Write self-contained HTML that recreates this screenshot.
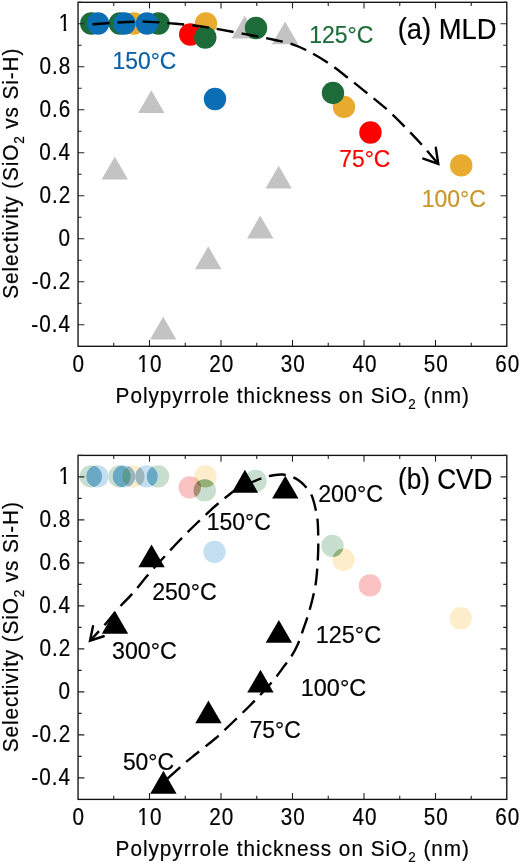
<!DOCTYPE html>
<html lang="en"><head><meta charset="utf-8"><title>Selectivity vs polypyrrole thickness</title>
<style>
html,body{margin:0;padding:0;background:#fff}
svg{display:block;font-family:"Liberation Sans", Arial, Helvetica, sans-serif}
text{stroke-width:0.2px;paint-order:stroke fill;white-space:pre}
</style></head>
<body>
<svg width="520" height="864" viewBox="0 0 520 864">
<defs><clipPath id="cp-one"><path d="M-10,-40H120V-2.72H-10Z M5.38,-3.22H8.22V3H5.38Z M12.79,-3.22H120V10H12.79Z"/></clipPath></defs>
<rect width="520" height="864" fill="#fff"/>
<g id="panel-a">
<polygon points="163.20,316.64 150.00,339.44 176.40,339.44" fill="#c3c3c3"/>
<polygon points="208.25,246.34 195.05,269.14 221.44,269.14" fill="#c3c3c3"/>
<polygon points="260.23,215.59 247.03,238.39 273.43,238.39" fill="#c3c3c3"/>
<polygon points="278.67,165.71 265.47,188.51 291.87,188.51" fill="#c3c3c3"/>
<polygon points="244.71,15.64 231.51,38.44 257.91,38.44" fill="#c3c3c3"/>
<polygon points="285.11,21.44 271.91,44.24 298.31,44.24" fill="#c3c3c3"/>
<polygon points="151.33,90.24 138.13,113.04 164.53,113.04" fill="#c3c3c3"/>
<polygon points="114.79,156.68 101.59,179.48 127.99,179.48" fill="#c3c3c3"/>
<circle cx="133.77" cy="23.50" r="11.2" fill="#e9ab2f"/>
<circle cx="205.99" cy="23.50" r="11.2" fill="#e9ab2f"/>
<circle cx="343.98" cy="106.92" r="11.2" fill="#e9ab2f"/>
<circle cx="461.24" cy="165.40" r="11.2" fill="#e9ab2f"/>
<circle cx="190.25" cy="34.47" r="11.2" fill="#ff0000"/>
<circle cx="370.44" cy="132.50" r="11.2" fill="#ff0000"/>
<circle cx="91.30" cy="23.50" r="11.2" fill="#1c6b38"/>
<circle cx="119.90" cy="23.50" r="11.2" fill="#1c6b38"/>
<circle cx="158.51" cy="23.50" r="11.2" fill="#1c6b38"/>
<circle cx="205.27" cy="37.47" r="11.2" fill="#1c6b38"/>
<circle cx="256.03" cy="28.02" r="11.2" fill="#1c6b38"/>
<circle cx="332.97" cy="92.94" r="11.2" fill="#1c6b38"/>
<circle cx="98.02" cy="23.50" r="11.2" fill="#0a6eb4"/>
<circle cx="124.47" cy="23.50" r="11.2" fill="#0a6eb4"/>
<circle cx="147.00" cy="23.50" r="11.2" fill="#0a6eb4"/>
<circle cx="214.99" cy="98.97" r="11.2" fill="#0a6eb4"/>
<path d="M92.50,24.30 C95.42,24.08 104.25,23.38 110.00,23.00 C115.75,22.62 121.50,22.23 127.00,22.00 C132.50,21.77 137.50,21.53 143.00,21.60 C148.50,21.67 154.50,22.03 160.00,22.40 C165.50,22.77 170.67,23.33 176.00,23.80 C181.33,24.27 186.33,24.53 192.00,25.20 C197.67,25.87 203.50,26.75 210.00,27.80 C216.50,28.85 223.50,30.13 231.00,31.50 C238.50,32.87 247.67,34.58 255.00,36.00 C262.33,37.42 269.17,38.75 275.00,40.00 C280.83,41.25 284.83,41.83 290.00,43.50 C295.17,45.17 299.75,46.83 306.00,50.00 C312.25,53.17 320.58,57.92 327.50,62.50 C334.42,67.08 340.83,72.33 347.50,77.50 C354.17,82.67 360.92,88.17 367.50,93.50 C374.08,98.83 380.75,103.92 387.00,109.50 C393.25,115.08 399.08,121.00 405.00,127.00 C410.92,133.00 417.08,139.50 422.50,145.50 C427.92,151.50 435.00,160.08 437.50,163.00" fill="none" stroke="#000" stroke-width="2.4" stroke-dasharray="17 8"/>
<path d="M423.3,158.6 L438.3,164 L435.8,147.8" fill="none" stroke="#000" stroke-width="2.4" stroke-linecap="round" stroke-linejoin="miter"/>
<rect x="78.05" y="2.30" width="428.75" height="344.00" fill="none" stroke="#111" stroke-width="1.35"/>
<path d="M113.75,346.30v-3.6 M113.75,2.30v3.6 M149.50,346.30v-6.3 M149.50,2.30v6.3 M185.25,346.30v-3.6 M185.25,2.30v3.6 M221.00,346.30v-6.3 M221.00,2.30v6.3 M256.75,346.30v-3.6 M256.75,2.30v3.6 M292.50,346.30v-6.3 M292.50,2.30v6.3 M328.25,346.30v-3.6 M328.25,2.30v3.6 M364.00,346.30v-6.3 M364.00,2.30v6.3 M399.75,346.30v-3.6 M399.75,2.30v3.6 M435.50,346.30v-6.3 M435.50,2.30v6.3 M471.25,346.30v-3.6 M471.25,2.30v3.6 M78.05,324.80h6.3 M506.8,324.80h-6.3 M78.05,303.30h3.6 M506.8,303.30h-3.6 M78.05,281.80h6.3 M506.8,281.80h-6.3 M78.05,260.30h3.6 M506.8,260.30h-3.6 M78.05,238.80h6.3 M506.8,238.80h-6.3 M78.05,217.30h3.6 M506.8,217.30h-3.6 M78.05,195.80h6.3 M506.8,195.80h-6.3 M78.05,174.30h3.6 M506.8,174.30h-3.6 M78.05,152.80h6.3 M506.8,152.80h-6.3 M78.05,131.30h3.6 M506.8,131.30h-3.6 M78.05,109.80h6.3 M506.8,109.80h-6.3 M78.05,88.30h3.6 M506.8,88.30h-3.6 M78.05,66.80h6.3 M506.8,66.80h-6.3 M78.05,45.30h3.6 M506.8,45.30h-3.6 M78.05,23.80h6.3 M506.8,23.80h-6.3 M78.05,2.30h3.6 M506.8,2.30h-3.6" stroke="#222" stroke-width="1.1" fill="none"/>
<text transform="translate(72.54,371.90) scale(0.9,1)" xml:space="preserve" letter-spacing="1.111" fill="#000" stroke="#000"><tspan font-size="23.0">0</tspan></text>
<text transform="translate(137.40,371.90) scale(0.9,1)" xml:space="preserve" letter-spacing="1.111" fill="#000" stroke="#000" clip-path="url(#cp-one)"><tspan font-size="23.0">10</tspan></text>
<text transform="translate(209.17,371.90) scale(0.9,1)" xml:space="preserve" letter-spacing="1.111" fill="#000" stroke="#000"><tspan font-size="23.0">20</tspan></text>
<text transform="translate(280.80,371.90) scale(0.9,1)" xml:space="preserve" letter-spacing="1.111" fill="#000" stroke="#000"><tspan font-size="23.0">30</tspan></text>
<text transform="translate(352.45,371.90) scale(0.9,1)" xml:space="preserve" letter-spacing="1.111" fill="#000" stroke="#000"><tspan font-size="23.0">40</tspan></text>
<text transform="translate(423.78,371.90) scale(0.9,1)" xml:space="preserve" letter-spacing="1.111" fill="#000" stroke="#000"><tspan font-size="23.0">50</tspan></text>
<text transform="translate(495.17,371.90) scale(0.9,1)" xml:space="preserve" letter-spacing="1.111" fill="#000" stroke="#000"><tspan font-size="23.0">60</tspan></text>
<text transform="translate(58.80,31.00) scale(0.9,1)" xml:space="preserve" letter-spacing="1.111" fill="#000" stroke="#000" clip-path="url(#cp-one)"><tspan font-size="23.0">1</tspan></text>
<text transform="translate(39.42,74.00) scale(0.9,1)" xml:space="preserve" letter-spacing="1.111" fill="#000" stroke="#000"><tspan font-size="23.0">0.8</tspan></text>
<text transform="translate(39.43,117.00) scale(0.9,1)" xml:space="preserve" letter-spacing="1.111" fill="#000" stroke="#000"><tspan font-size="23.0">0.6</tspan></text>
<text transform="translate(39.13,160.00) scale(0.9,1)" xml:space="preserve" letter-spacing="1.111" fill="#000" stroke="#000"><tspan font-size="23.0">0.4</tspan></text>
<text transform="translate(39.57,203.00) scale(0.9,1)" xml:space="preserve" letter-spacing="1.111" fill="#000" stroke="#000"><tspan font-size="23.0">0.2</tspan></text>
<text transform="translate(58.60,246.00) scale(0.9,1)" xml:space="preserve" letter-spacing="1.111" fill="#000" stroke="#000"><tspan font-size="23.0">0</tspan></text>
<text transform="translate(31.67,289.00) scale(0.9,1)" xml:space="preserve" letter-spacing="1.111" fill="#000" stroke="#000"><tspan font-size="23.0">-0.2</tspan></text>
<text transform="translate(31.24,332.00) scale(0.9,1)" xml:space="preserve" letter-spacing="1.111" fill="#000" stroke="#000"><tspan font-size="23.0">-0.4</tspan></text>
<text transform="translate(115.60,402.50) scale(0.93,1)" xml:space="preserve" letter-spacing="1.062" fill="#000" stroke="#000"><tspan font-size="22.3">Polypyrrole thickness on SiO</tspan><tspan font-size="14.5" dy="6">2</tspan><tspan font-size="22.3" dy="-6"> (nm)</tspan></text>
<text transform="translate(18.3,297.7) rotate(-90) translate(-0.94,0.00) scale(0.93,1)" xml:space="preserve" letter-spacing="0.969" fill="#000" stroke="#000"><tspan font-size="22.3">Selectivity (SiO</tspan><tspan font-size="14.5" dy="6">2</tspan><tspan font-size="22.3" dy="-6"> vs Si-H)</tspan></text>
<text x="397.7" y="39" font-size="28.6" fill="#000" stroke="#000" text-anchor="start" textLength="98.81" lengthAdjust="spacingAndGlyphs">(a) MLD</text>
<text x="112.56" y="68.8" font-size="23.6" fill="#0b5fa5" stroke="#0b5fa5" text-anchor="start" textLength="63.81" lengthAdjust="spacingAndGlyphs">150°C</text>
<text x="309.25" y="43" font-size="23.6" fill="#1c6b38" stroke="#1c6b38" text-anchor="start" textLength="64.13" lengthAdjust="spacingAndGlyphs">125°C</text>
<text x="339.33" y="167" font-size="23.6" fill="#ff0000" stroke="#ff0000" text-anchor="start" textLength="51.04" lengthAdjust="spacingAndGlyphs">75°C</text>
<text x="421.75" y="206.5" font-size="23.6" fill="#c8972a" stroke="#c8972a" text-anchor="start" textLength="64.13" lengthAdjust="spacingAndGlyphs">100°C</text>
</g>
<g id="panel-b">
<defs><clipPath id="cp-y0"><circle cx="133.27" cy="476.40" r="11.2"/></clipPath><clipPath id="cp-y1"><circle cx="205.49" cy="476.40" r="11.2"/></clipPath><clipPath id="cp-y2"><circle cx="343.48" cy="559.82" r="11.2"/></clipPath><clipPath id="cp-y3"><circle cx="460.74" cy="618.30" r="11.2"/></clipPath><clipPath id="cp-r0"><circle cx="189.75" cy="487.37" r="11.2"/></clipPath><clipPath id="cp-r1"><circle cx="369.94" cy="585.40" r="11.2"/></clipPath><clipPath id="cp-g0"><circle cx="90.80" cy="476.40" r="11.2"/></clipPath><clipPath id="cp-g1"><circle cx="119.40" cy="476.40" r="11.2"/></clipPath><clipPath id="cp-g2"><circle cx="158.01" cy="476.40" r="11.2"/></clipPath><clipPath id="cp-g3"><circle cx="204.77" cy="490.38" r="11.2"/></clipPath><clipPath id="cp-g4"><circle cx="255.53" cy="480.91" r="11.2"/></clipPath><clipPath id="cp-g5"><circle cx="332.47" cy="545.84" r="11.2"/></clipPath><clipPath id="cp-b0"><circle cx="97.52" cy="476.40" r="11.2"/></clipPath><clipPath id="cp-b1"><circle cx="123.97" cy="476.40" r="11.2"/></clipPath><clipPath id="cp-b2"><circle cx="146.50" cy="476.40" r="11.2"/></clipPath><clipPath id="cp-b3"><circle cx="214.49" cy="551.87" r="11.2"/></clipPath></defs>
<circle cx="133.27" cy="476.40" r="11.2" fill="#fdedca"/>
<circle cx="205.49" cy="476.40" r="11.2" fill="#fdedca"/>
<circle cx="343.48" cy="559.82" r="11.2" fill="#fdedca"/>
<circle cx="460.74" cy="618.30" r="11.2" fill="#fdedca"/>
<circle cx="189.75" cy="487.37" r="11.2" fill="#fbc2c3"/>
<circle cx="369.94" cy="585.40" r="11.2" fill="#fbc2c3"/>
<circle cx="90.80" cy="476.40" r="11.2" fill="#c8dfcf"/>
<circle cx="119.40" cy="476.40" r="11.2" fill="#c8dfcf"/>
<circle cx="158.01" cy="476.40" r="11.2" fill="#c8dfcf"/>
<circle cx="204.77" cy="490.38" r="11.2" fill="#c8dfcf"/>
<circle cx="255.53" cy="480.91" r="11.2" fill="#c8dfcf"/>
<circle cx="332.47" cy="545.84" r="11.2" fill="#c8dfcf"/>
<circle cx="97.52" cy="476.40" r="11.2" fill="#c3dff0"/>
<circle cx="123.97" cy="476.40" r="11.2" fill="#c3dff0"/>
<circle cx="146.50" cy="476.40" r="11.2" fill="#c3dff0"/>
<circle cx="214.49" cy="551.87" r="11.2" fill="#c3dff0"/>
<g clip-path="url(#cp-b0)"><circle cx="90.80" cy="476.40" r="11.2" fill="#6aa9c6"/></g>
<g clip-path="url(#cp-b1)"><circle cx="119.40" cy="476.40" r="11.2" fill="#6aa9c6"/></g>
<g clip-path="url(#cp-y0)"><circle cx="119.40" cy="476.40" r="11.2" fill="#93b077"/></g>
<g clip-path="url(#cp-y0)"><circle cx="123.97" cy="476.40" r="11.2" fill="#9cb4bc"/></g>
<g clip-path="url(#cp-y0)"><g clip-path="url(#cp-b1)"><circle cx="119.40" cy="476.40" r="11.2" fill="#5a9a96"/></g></g>
<g clip-path="url(#cp-b2)"><circle cx="133.27" cy="476.40" r="11.2" fill="#9cb4bc"/></g>
<g clip-path="url(#cp-g2)"><circle cx="146.50" cy="476.40" r="11.2" fill="#6aa9c6"/></g>
<g clip-path="url(#cp-r0)"><circle cx="205.49" cy="476.40" r="11.2" fill="#f8bf8e"/></g>
<g clip-path="url(#cp-g3)"><circle cx="205.49" cy="476.40" r="11.2" fill="#93b077"/></g>
<g clip-path="url(#cp-g3)"><circle cx="189.75" cy="487.37" r="11.2" fill="#aa8c70"/></g>
<g clip-path="url(#cp-g3)"><g clip-path="url(#cp-r0)"><circle cx="205.49" cy="476.40" r="11.2" fill="#84784e"/></g></g>
<g clip-path="url(#cp-y2)"><circle cx="332.47" cy="545.84" r="11.2" fill="#93b077"/></g>
<path d="M167.50,778.75 C170.00,776.46 177.71,769.17 182.50,765.00 C187.29,760.83 190.83,758.12 196.25,753.75 C201.67,749.38 208.96,743.96 215.00,738.75 C221.04,733.54 226.67,728.04 232.50,722.50 C238.33,716.96 245.00,710.50 250.00,705.50 C255.00,700.50 258.54,696.75 262.50,692.50 C266.46,688.25 270.00,684.58 273.75,680.00 C277.50,675.42 282.29,668.54 285.00,665.00 C287.71,661.46 287.92,662.08 290.00,658.75 C292.08,655.42 295.33,649.79 297.50,645.00 C299.67,640.21 301.33,634.67 303.00,630.00 C304.67,625.33 306.00,621.83 307.50,617.00 C309.00,612.17 310.67,606.33 312.00,601.00 C313.33,595.67 314.62,590.50 315.50,585.00 C316.38,579.50 316.85,573.83 317.30,568.00 C317.75,562.17 318.05,555.50 318.20,550.00 C318.35,544.50 318.35,540.33 318.20,535.00 C318.05,529.67 318.12,523.83 317.30,518.00 C316.48,512.17 314.52,504.25 313.30,500.00 C312.08,495.75 311.47,494.92 310.00,492.50 C308.53,490.08 306.42,487.53 304.50,485.50 C302.58,483.47 300.75,481.80 298.50,480.30 C296.25,478.80 293.67,477.47 291.00,476.50 C288.33,475.53 285.42,474.72 282.50,474.50 C279.58,474.28 276.58,474.70 273.50,475.20 C270.42,475.70 267.71,476.28 264.00,477.50 C260.29,478.72 255.67,480.62 251.25,482.50 C246.83,484.38 241.25,486.67 237.50,488.75 C233.75,490.83 232.50,492.08 228.75,495.00 C225.00,497.92 220.42,501.46 215.00,506.25 C209.58,511.04 202.29,517.92 196.25,523.75 C190.21,529.58 184.38,535.42 178.75,541.25 C173.12,547.08 167.50,553.29 162.50,558.75 C157.50,564.21 153.67,568.29 148.75,574.00 C143.83,579.71 138.00,587.33 133.00,593.00 C128.00,598.67 123.42,602.75 118.75,608.00 C114.08,613.25 109.62,619.22 105.00,624.50 C100.38,629.78 93.33,637.17 91.00,639.70" fill="none" stroke="#000" stroke-width="2.4" stroke-dasharray="17 8"/>
<path d="M93,626.25 L90,640.75 L103.75,636.25" fill="none" stroke="#000" stroke-width="2.4" stroke-linecap="round"/>
<polygon points="163.40,770.84 150.20,793.64 176.60,793.64" fill="#000"/>
<polygon points="208.44,700.53 195.25,723.33 221.64,723.33" fill="#000"/>
<polygon points="260.43,669.79 247.23,692.59 273.63,692.59" fill="#000"/>
<polygon points="278.87,619.91 265.67,642.71 292.07,642.71" fill="#000"/>
<polygon points="244.91,469.84 231.71,492.64 258.11,492.64" fill="#000"/>
<polygon points="285.31,475.64 272.11,498.44 298.51,498.44" fill="#000"/>
<polygon points="151.53,544.44 138.33,567.25 164.73,567.25" fill="#000"/>
<polygon points="114.99,610.88 101.79,633.68 128.19,633.68" fill="#000"/>
<rect x="78.05" y="455.40" width="428.75" height="344.00" fill="none" stroke="#111" stroke-width="1.35"/>
<path d="M113.75,799.40v-3.6 M113.75,455.40v3.6 M149.50,799.40v-6.3 M149.50,455.40v6.3 M185.25,799.40v-3.6 M185.25,455.40v3.6 M221.00,799.40v-6.3 M221.00,455.40v6.3 M256.75,799.40v-3.6 M256.75,455.40v3.6 M292.50,799.40v-6.3 M292.50,455.40v6.3 M328.25,799.40v-3.6 M328.25,455.40v3.6 M364.00,799.40v-6.3 M364.00,455.40v6.3 M399.75,799.40v-3.6 M399.75,455.40v3.6 M435.50,799.40v-6.3 M435.50,455.40v6.3 M471.25,799.40v-3.6 M471.25,455.40v3.6 M78.05,777.90h6.3 M506.8,777.90h-6.3 M78.05,756.40h3.6 M506.8,756.40h-3.6 M78.05,734.90h6.3 M506.8,734.90h-6.3 M78.05,713.40h3.6 M506.8,713.40h-3.6 M78.05,691.90h6.3 M506.8,691.90h-6.3 M78.05,670.40h3.6 M506.8,670.40h-3.6 M78.05,648.90h6.3 M506.8,648.90h-6.3 M78.05,627.40h3.6 M506.8,627.40h-3.6 M78.05,605.90h6.3 M506.8,605.90h-6.3 M78.05,584.40h3.6 M506.8,584.40h-3.6 M78.05,562.90h6.3 M506.8,562.90h-6.3 M78.05,541.40h3.6 M506.8,541.40h-3.6 M78.05,519.90h6.3 M506.8,519.90h-6.3 M78.05,498.40h3.6 M506.8,498.40h-3.6 M78.05,476.90h6.3 M506.8,476.90h-6.3 M78.05,455.40h3.6 M506.8,455.40h-3.6" stroke="#222" stroke-width="1.1" fill="none"/>
<text transform="translate(72.54,825.40) scale(0.9,1)" xml:space="preserve" letter-spacing="1.111" fill="#000" stroke="#000"><tspan font-size="23.0">0</tspan></text>
<text transform="translate(137.40,825.40) scale(0.9,1)" xml:space="preserve" letter-spacing="1.111" fill="#000" stroke="#000" clip-path="url(#cp-one)"><tspan font-size="23.0">10</tspan></text>
<text transform="translate(209.17,825.40) scale(0.9,1)" xml:space="preserve" letter-spacing="1.111" fill="#000" stroke="#000"><tspan font-size="23.0">20</tspan></text>
<text transform="translate(280.80,825.40) scale(0.9,1)" xml:space="preserve" letter-spacing="1.111" fill="#000" stroke="#000"><tspan font-size="23.0">30</tspan></text>
<text transform="translate(352.45,825.40) scale(0.9,1)" xml:space="preserve" letter-spacing="1.111" fill="#000" stroke="#000"><tspan font-size="23.0">40</tspan></text>
<text transform="translate(423.78,825.40) scale(0.9,1)" xml:space="preserve" letter-spacing="1.111" fill="#000" stroke="#000"><tspan font-size="23.0">50</tspan></text>
<text transform="translate(495.17,825.40) scale(0.9,1)" xml:space="preserve" letter-spacing="1.111" fill="#000" stroke="#000"><tspan font-size="23.0">60</tspan></text>
<text transform="translate(58.80,484.10) scale(0.9,1)" xml:space="preserve" letter-spacing="1.111" fill="#000" stroke="#000" clip-path="url(#cp-one)"><tspan font-size="23.0">1</tspan></text>
<text transform="translate(39.42,527.10) scale(0.9,1)" xml:space="preserve" letter-spacing="1.111" fill="#000" stroke="#000"><tspan font-size="23.0">0.8</tspan></text>
<text transform="translate(39.43,570.10) scale(0.9,1)" xml:space="preserve" letter-spacing="1.111" fill="#000" stroke="#000"><tspan font-size="23.0">0.6</tspan></text>
<text transform="translate(39.13,613.10) scale(0.9,1)" xml:space="preserve" letter-spacing="1.111" fill="#000" stroke="#000"><tspan font-size="23.0">0.4</tspan></text>
<text transform="translate(39.57,656.10) scale(0.9,1)" xml:space="preserve" letter-spacing="1.111" fill="#000" stroke="#000"><tspan font-size="23.0">0.2</tspan></text>
<text transform="translate(58.60,699.10) scale(0.9,1)" xml:space="preserve" letter-spacing="1.111" fill="#000" stroke="#000"><tspan font-size="23.0">0</tspan></text>
<text transform="translate(31.67,742.10) scale(0.9,1)" xml:space="preserve" letter-spacing="1.111" fill="#000" stroke="#000"><tspan font-size="23.0">-0.2</tspan></text>
<text transform="translate(31.24,785.10) scale(0.9,1)" xml:space="preserve" letter-spacing="1.111" fill="#000" stroke="#000"><tspan font-size="23.0">-0.4</tspan></text>
<text transform="translate(115.60,856.00) scale(0.93,1)" xml:space="preserve" letter-spacing="1.062" fill="#000" stroke="#000"><tspan font-size="22.3">Polypyrrole thickness on SiO</tspan><tspan font-size="14.5" dy="6">2</tspan><tspan font-size="22.3" dy="-6"> (nm)</tspan></text>
<text transform="translate(18.3,751.2) rotate(-90) translate(-0.94,0.00) scale(0.93,1)" xml:space="preserve" letter-spacing="0.969" fill="#000" stroke="#000"><tspan font-size="22.3">Selectivity (SiO</tspan><tspan font-size="14.5" dy="6">2</tspan><tspan font-size="22.3" dy="-6"> vs Si-H)</tspan></text>
<text x="397.98" y="489" font-size="28.6" fill="#000" stroke="#000" text-anchor="start" textLength="94.47" lengthAdjust="spacingAndGlyphs">(b) CVD</text>
<text x="122.88" y="770.4" font-size="23.6" fill="#000" stroke="#000" text-anchor="start" textLength="51.09" lengthAdjust="spacingAndGlyphs">50°C</text>
<text x="249.63" y="738" font-size="23.6" fill="#000" stroke="#000" text-anchor="start" textLength="51.04" lengthAdjust="spacingAndGlyphs">75°C</text>
<text x="300.82" y="695.5" font-size="23.6" fill="#000" stroke="#000" text-anchor="start" textLength="65.38" lengthAdjust="spacingAndGlyphs">100°C</text>
<text x="315.72" y="642.5" font-size="23.6" fill="#000" stroke="#000" text-anchor="start" textLength="65.38" lengthAdjust="spacingAndGlyphs">125°C</text>
<text x="206.75" y="529.5" font-size="23.6" fill="#000" stroke="#000" text-anchor="start" textLength="64.13" lengthAdjust="spacingAndGlyphs">150°C</text>
<text x="318.23" y="502.3" font-size="23.6" fill="#000" stroke="#000" text-anchor="start" textLength="64.75" lengthAdjust="spacingAndGlyphs">200°C</text>
<text x="152.14" y="599.6" font-size="23.6" fill="#000" stroke="#000" text-anchor="start" textLength="64.54" lengthAdjust="spacingAndGlyphs">250°C</text>
<text x="112.02" y="659.4" font-size="23.6" fill="#000" stroke="#000" text-anchor="start" textLength="64.77" lengthAdjust="spacingAndGlyphs">300°C</text>
</g>
</svg>
</body></html>
